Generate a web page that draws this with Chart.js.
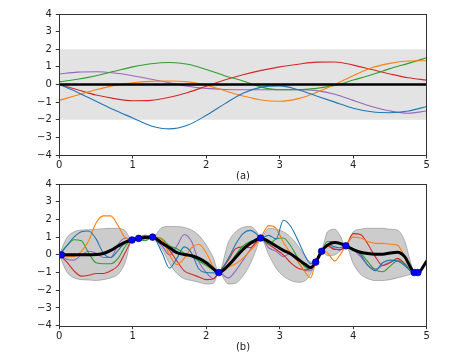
<!DOCTYPE html>
<html><head><meta charset="utf-8">
<script src="https://cdn.jsdelivr.net/npm/chart.js@4.4.0/dist/chart.umd.min.js"></script>
<style>
html,body{margin:0;padding:0;background:#fff;width:474px;height:357px;overflow:hidden;position:relative}
canvas{position:absolute;left:0}
</style></head><body>
<canvas id="ca" width="474" height="185" style="top:0px"></canvas>
<canvas id="cb" width="474" height="187" style="top:170px"></canvas>
<script>
// ---------- tick labels ----------
const xTicks = [0, 1, 2, 3, 4, 5];
const yTicks = [-4, -3, -2, -1, 0, 1, 2, 3, 4];
const panelTitles = ['(a)', '(b)'];

// ---------- panel (a): prior samples ----------
const xA = [0,0.25,0.5,0.75,1,1.25,1.5,1.75,2,2.25,2.5,2.75,3,3.25,3.5,3.75,4,4.25,4.5,4.75,5];
const blueA   = [0,-0.45,-0.95,-1.45,-1.9,-2.35,-2.52,-2.3,-1.75,-1.1,-0.5,-0.15,-0.08,-0.3,-0.65,-1.0,-1.35,-1.55,-1.6,-1.5,-1.25];
const orangeA = [-0.9,-0.6,-0.3,-0.05,0.1,0.18,0.2,0.15,-0.05,-0.35,-0.65,-0.88,-0.95,-0.8,-0.45,0.0,0.5,0.95,1.2,1.33,1.35];
const greenA  = [0.15,0.3,0.5,0.75,1.0,1.18,1.25,1.15,0.85,0.5,0.2,-0.15,-0.3,-0.3,-0.22,-0.05,0.25,0.55,0.9,1.2,1.52];
const redA    = [0,-0.3,-0.6,-0.8,-0.92,-0.9,-0.72,-0.45,-0.1,0.25,0.55,0.8,1.0,1.15,1.27,1.28,1.1,0.85,0.6,0.38,0.25];
const purpleA = [0.6,0.7,0.72,0.65,0.5,0.3,0.1,-0.1,-0.22,-0.28,-0.3,-0.3,-0.3,-0.3,-0.35,-0.55,-0.9,-1.25,-1.5,-1.63,-1.5];
const xMeanA = [0, 5];
const meanA  = [0, 0];
const upperA = [2, 2];
const lowerA = [-2, -2];

// ---------- panel (b): posterior samples ----------
const xB = [0,0.1,0.2,0.3,0.4,0.5,0.6,0.7,0.8,0.9,
            0.99,1.08,1.17,1.27,
            1.4,1.5,1.6,1.7,1.8,1.9,2.0,2.1,
            2.17,
            2.3,2.4,2.5,2.6,2.68,
            2.74,
            2.85,2.95,3.05,3.15,3.25,3.35,3.42,
            3.49,3.57,
            3.65,3.75,3.82,
            3.9,
            4.0,4.1,4.2,4.3,4.4,4.5,4.6,4.7,
            4.78,4.83,4.88,5.0];
const meanB = [0,0,0,0,0,0.02,0.08,0.25,0.5,0.72,
               0.84,0.93,0.98,1.0,
               0.65,0.4,0.12,0.02,-0.05,-0.2,-0.45,-0.8,
               -1.0,
               -0.6,-0.15,0.3,0.65,0.85,
               0.95,
               0.75,0.5,0.25,0.05,-0.25,-0.55,-0.72,
               -0.41,0.2,
               0.55,0.7,0.65,
               0.51,
               0.3,0.15,0.07,0.04,0.04,0.1,0.15,-0.1,
               -0.7,-1.0,-1.0,-0.35];
const upperB = [0,0.95,1.3,1.4,1.42,1.45,1.48,1.5,1.5,1.35,
                0.84,0.97,1.12,1.0,
                1.55,1.6,1.6,1.55,1.4,1.1,0.55,-0.2,
                -1.0,
                0.7,1.3,1.55,1.6,1.35,
                0.95,
                1.5,1.45,1.3,1.0,0.5,-0.1,-0.4,
                -0.41,0.2,
                1.3,1.45,1.1,
                0.51,
                1.3,1.45,1.5,1.5,1.5,1.45,1.4,0.8,
                -0.4,-1.0,-1.0,-0.2];
const lowerB = [0,-0.95,-1.3,-1.4,-1.42,-1.45,-1.4,-1.3,-1.1,-0.4,
                0.84,0.85,0.82,1.0,
                0.3,-0.5,-1.05,-1.35,-1.45,-1.55,-1.65,-1.6,
                -1.0,
                -1.65,-1.6,-1.2,-0.5,0.3,
                0.95,
                0.0,-0.75,-1.2,-1.45,-1.55,-1.45,-1.1,
                -0.41,0.2,
                -0.05,0.0,0.2,
                0.51,
                -0.5,-1.1,-1.35,-1.45,-1.45,-1.4,-1.3,-1.2,
                -1.1,-1.0,-1.0,-0.5];
const blueB = [0,0.5,1.0,1.3,1.35,0.9,0.1,-0.15,0.25,0.7,
               0.84,0.93,0.95,1.0,
               0.1,-0.75,-0.2,0.45,0.1,-0.8,-1.0,-1.02,
               -1.0,
               -0.2,0.6,1.2,1.38,1.2,
               0.95,
               1.1,0.9,1.95,1.6,0.8,-0.1,-0.5,
               -0.41,0.2,
               0.6,0.45,0.4,
               0.51,
               0.35,0.0,-0.6,-0.9,-0.45,-0.3,-0.35,-0.6,
               -0.9,-1.0,-1.0,-0.45];
const orangeB = [0,-0.1,-0.1,0.2,0.8,1.8,2.2,2.2,1.65,0.95,
                 0.84,0.95,1.02,1.0,
                 0.85,0.0,-0.55,-0.2,0.4,0.6,0.1,-0.7,
                 -1.0,
                 -0.7,-0.5,-0.2,0.25,0.6,
                 0.95,
                 1.65,1.5,0.7,0.1,-0.4,-1.0,-1.3,
                 -0.41,0.2,
                 0.1,-0.35,0.0,
                 0.51,
                 1.0,0.95,0.75,0.65,0.65,0.6,0.55,-0.1,
                 -0.8,-1.0,-1.0,-0.3];
const greenB = [0,0.5,0.85,0.8,0.1,-0.45,-0.5,-0.5,-0.2,0.5,
                0.84,0.85,0.8,1.0,
                0.9,0.5,0.35,0.1,-0.1,-0.35,-0.6,-0.85,
                -1.0,
                -0.6,0.0,0.5,0.75,0.85,
                0.95,
                0.6,0.9,0.95,0.5,-0.2,-0.7,-0.8,
                -0.41,0.2,
                0.75,0.75,0.6,
                0.51,
                0.35,0.1,-0.4,-0.85,-0.95,-0.65,-0.35,-0.5,
                -0.9,-1.0,-1.0,-0.4];
const redB = [0,-0.4,-0.9,-1.2,-1.15,-1.05,-1.05,-0.9,-0.6,0.15,
              0.84,0.97,1.05,1.0,
              0.7,0.25,-0.35,-0.9,-1.1,-1.25,-1.4,-1.35,
              -1.0,
              -0.3,0.35,0.45,0.4,0.7,
              0.95,
              0.6,0.3,0.0,-0.45,-0.75,-0.85,-0.75,
              -0.41,0.2,
              0.5,0.3,0.3,
              0.51,
              1.2,1.15,0.6,-0.1,-0.6,-0.45,-0.2,-0.5,
              -0.9,-1.0,-1.0,-0.35];
const purpleB = [0,-0.25,-0.3,0.0,0.2,0.1,-0.15,-0.15,0.6,0.95,
                 0.84,0.98,1.1,1.0,
                 0.5,0.0,0.5,1.15,0.75,-0.4,-1.0,-1.35,
                 -1.0,
                 -1.3,-0.9,-0.3,0.3,0.75,
                 0.95,
                 0.4,0.2,-0.1,0.1,-0.4,-0.9,-0.9,
                 -0.41,0.2,
                 0.5,0.35,0.25,
                 0.51,
                 0.3,-0.1,-0.6,-0.8,-0.6,-0.4,-0.3,-0.55,
                 -0.9,-1.0,-1.0,-0.4];
const obsX = [0.03,0.99,1.08,1.27,2.17,2.74,3.49,3.57,3.90,4.83,4.88];
const obsY = [0,0.84,0.93,1.0,-1.0,0.95,-0.41,0.2,0.51,-1.0,-1.0];

// ---------- helpers ----------
const zip = (xs, ys) => xs.map((x, i) => ({x: x, y: ys[i]}));
const COLORS = {blue:'#1f77b4', orange:'#ff7f0e', green:'#2ca02c', red:'#d62728', purple:'#9467bd'};
const FONT = {family:'"DejaVu Sans", sans-serif', size:10};

const framePlugin = {
  id: 'frame',
  afterDatasetsDraw(chart) {
    const {ctx, chartArea: a} = chart;
    ctx.save();
    ctx.strokeStyle = '#333';
    ctx.lineWidth = 1;
    ctx.strokeRect(Math.round(a.left) + 0.5, Math.round(a.top) + 0.5,
                   Math.round(a.right - a.left), Math.round(a.bottom - a.top));
    ctx.restore();
  }
};

function sampleDs(xs, ys, color) {
  return {data: zip(xs, ys), borderColor: color, borderWidth: 1.1, pointRadius: 0,
          fill: false, cubicInterpolationMode: 'monotone', order: 3};
}

function makeChart(id, datasets, title, xAxisH, titlePadB) {
  return new Chart(document.getElementById(id), {
    type: 'line',
    data: {datasets: datasets},
    plugins: [framePlugin],
    options: {
      responsive: false, animation: false, devicePixelRatio: 1,
      layout: {padding: {top: 14, right: 47.3, left: 0, bottom: 0}},
      plugins: {legend: {display: false}, tooltip: {enabled: false}},
      scales: {
        x: {
          type: 'linear', min: 0, max: 5,
          afterBuildTicks: s => { s.ticks = xTicks.map(v => ({value: v})); },
          afterFit: s => { s.height = xAxisH; },
          ticks: {font: FONT, color: '#222', padding: 1, maxRotation: 0, autoSkip: false,
                  callback: v => String(v)},
          grid: {drawOnChartArea: false, drawTicks: true, tickLength: 3.5, color: '#333'},
          border: {display: false},
          title: {display: true, text: title, font: FONT, color: '#222', padding: {top: 0, bottom: titlePadB}}
        },
        y: {
          type: 'linear', min: -4, max: 4,
          afterBuildTicks: s => { s.ticks = yTicks.map(v => ({value: v})); },
          afterFit: s => { s.width = 59.3; },
          ticks: {font: FONT, color: '#222', padding: 4, autoSkip: false,
                  callback: v => (v < 0 ? '\u2212' + Math.abs(v) : String(v))},
          grid: {drawOnChartArea: false, drawTicks: true, tickLength: 3.5, color: '#333'},
          border: {display: false}
        }
      }
    }
  });
}

// ---------- panel (a) ----------
makeChart('ca', [
  {data: zip(xMeanA, meanA), borderColor: '#000', borderWidth: 2.6, pointRadius: 0, fill: false, order: 1},
  sampleDs(xA, blueA, COLORS.blue),
  sampleDs(xA, orangeA, COLORS.orange),
  sampleDs(xA, greenA, COLORS.green),
  sampleDs(xA, redA, COLORS.red),
  sampleDs(xA, purpleA, COLORS.purple),
  {data: zip(xMeanA, upperA), borderWidth: 0, borderColor: 'rgba(0,0,0,0)', pointRadius: 0,
   backgroundColor: 'rgba(0,0,0,0.11)', fill: '+1', order: 10},
  {data: zip(xMeanA, lowerA), borderWidth: 0, borderColor: 'rgba(0,0,0,0)', pointRadius: 0, fill: false, order: 10}
], panelTitles[0], 30, 3);

// ---------- panel (b) ----------
makeChart('cb', [
  {data: zip(obsX, obsY), showLine: false, pointRadius: 3.3, pointBackgroundColor: '#0000ff',
   pointBorderColor: '#00008b', pointBorderWidth: 0.8, order: 0},
  {data: zip(xB, meanB), borderColor: '#000', borderWidth: 3, pointRadius: 0, fill: false,
   cubicInterpolationMode: 'monotone', order: 1},
  sampleDs(xB, blueB, COLORS.blue),
  sampleDs(xB, orangeB, COLORS.orange),
  sampleDs(xB, greenB, COLORS.green),
  sampleDs(xB, redB, COLORS.red),
  sampleDs(xB, purpleB, COLORS.purple),
  {data: zip(xB, upperB), borderWidth: 0.8, borderColor: 'rgba(0,0,0,0.3)', pointRadius: 0,
   backgroundColor: 'rgba(0,0,0,0.2)', fill: '+1', cubicInterpolationMode: 'monotone', order: 10},
  {data: zip(xB, lowerB), borderWidth: 0.8, borderColor: 'rgba(0,0,0,0.3)', pointRadius: 0,
   fill: false, cubicInterpolationMode: 'monotone', order: 10}
], panelTitles[1], 31.3, 4);
</script>
</body></html>
